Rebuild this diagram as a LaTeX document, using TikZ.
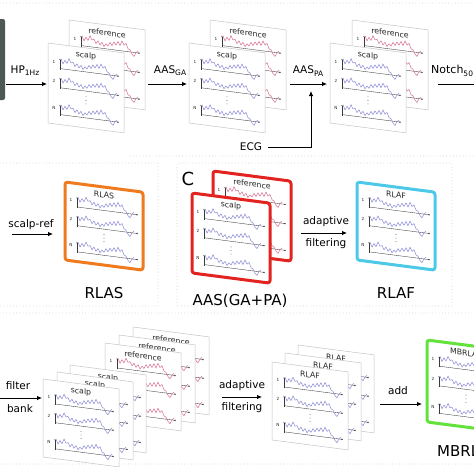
\documentclass[tikz,border=0pt]{standalone}
\usepackage{fontspec}
\setmainfont{DejaVu Sans}
\usetikzlibrary{arrows.meta}
\definecolor{slate}{HTML}{4D5756}
\definecolor{dotc}{HTML}{B0B0B0}
\definecolor{pborder}{HTML}{C4C4C4}
\definecolor{sigblue}{HTML}{8C8CD6}
\definecolor{sigred}{HTML}{D6708E}
\definecolor{axc}{HTML}{3A3A3A}
\definecolor{corange}{HTML}{F07A1E}
\definecolor{cred}{HTML}{E2231F}
\definecolor{ccyan}{HTML}{4CC9E8}
\definecolor{cgreen}{HTML}{63E13C}
\newcommand\lowsub[1]{\raisebox{-0.4ex}{\fontsize{7.5}{8}\selectfont #1}}
\tikzset{
 sepline/.style={dotc, line width=0.7pt, line cap=round, dash pattern=on 0pt off 3.3pt},
 greypanel/.style={draw=pborder, line width=0.5pt, fill=white},
 hl/.style={draw=#1, line width=3pt, rounded corners=2.5pt, line join=round, fill=white},
 ptitle/.style={font=\fontsize{7.8}{8}\selectfont, text=black!85, inner sep=0},
 chlab/.style={font=\fontsize{4.2}{4.2}\selectfont, inner sep=0, text=black!85},
 ax/.style={axc, line width=0.35pt},
 sig/.style={line width=0.5pt, line join=round},
 conn/.style={-{Latex[length=5pt,width=4.5pt]}, line width=0.8pt, black},
 lab/.style={font=\fontsize{10.5}{12}\selectfont, inner sep=0},
 biglab/.style={font=\fontsize{15}{17}\selectfont, inner sep=0},
}
\newcommand\drawpanel[7]{%
\begin{scope}[shift={(#1,#2)}, yslant=-0.13]
 \draw[#7] (0,0) -- (#3,0) -- (#3,#4) -- (0,#4) -- cycle;
 \node[ptitle, transform shape] at ({#3/2},8) {#5};
 \foreach \f/\lab in {0.3/1,0.54/2,0.875/N}{%
   \pgfmathsetmacro\yy{\f*#4}
   \node[chlab] at (6,{\yy-6}) {\lab};
   \draw[ax] (12,{\yy-9}) -- (12,{\yy+1});
   \fill[axc] (12,{\yy-9}) circle (0.6);
   \draw[ax] (12,\yy) -- ({#3-6},\yy);
   \fill[axc] ({#3-6},\yy) circle (0.8);
   \draw[sig, #6, shift={(13,{\yy-1})}] plot coordinates {(0,-9)(2,-4)(4,-8)(6,-5)(8,-10)(10,-6)(12,-7)(14,-3)(16,-6)(18,-2)(20,-5)(22,-1)(24,-4)(26,-2)(28,-6)(30,-3)(32,-7)(34,-4)(36,-8)(38,-4)(40,-9)(42,-5)(44,-7)(46,-2)(48,-1)(50,3)(52,5)(54,1)(56,-1)};
 }
 \foreach \f in {0.61,0.655,0.7} \fill[axc] ({#3/2},{\f*#4}) circle (0.45);
\end{scope}}
\begin{document}
\begin{tikzpicture}[x=1pt,y=-1pt]
\useasboundingbox (0,0) rectangle (474,474);
\clip (0,0) rectangle (474,474);
\fill[white] (0,0) rectangle (474,474);
% separators
\draw[sepline] (0,3) -- (474,3);
\draw[sepline] (130,156) -- (474,156);
\draw[sepline] (0,163) -- (158,163) -- (158,306) -- (0,306);
\draw[sepline] (177,306) -- (177,163) -- (452,163) -- (452,306) -- cycle;
\draw[sepline] (0,313) -- (474,313);
\draw[sepline] (0,464) -- (474,464);
% ---------- top row ----------
\fill[slate, rounded corners=2pt] (-5,19) rectangle (5,100);
\coordinate (hpA) at (6,84); \coordinate (hpB) at (47,84);
\draw[conn] (hpA) -- (hpB);
\node[lab] (hpl) at (25,71) {HP\lowsub{1Hz}};
\drawpanel{69}{20}{76}{80}{reference}{sigred}{greypanel}
\drawpanel{48}{43}{76}{80}{scalp}{sigblue}{greypanel}
\coordinate (gaA) at (148,84); \coordinate (gaB) at (187,84);
\draw[conn] (gaA) -- (gaB);
\node[lab] (gal) at (170,71) {AAS\lowsub{GA}};
\drawpanel{210}{20}{76}{80}{reference}{sigred}{greypanel}
\drawpanel{189}{43}{76}{80}{scalp}{sigblue}{greypanel}
\coordinate (paA) at (290,84); \coordinate (paB) at (327,84);
\draw[conn] (paA) -- (paB);
\node[lab] (pal) at (308,71) {AAS\lowsub{PA}};
\node[lab] (ecg) at (251,147) {ECG};
\coordinate (ecgT) at (311,91);
\draw[conn] (ecg.east) ++(6,0) -| (ecgT);
\drawpanel{352}{20}{76}{80}{reference}{sigred}{greypanel}
\drawpanel{330}{43}{76}{80}{scalp}{sigblue}{greypanel}
\coordinate (nA) at (438,84); \coordinate (nB) at (482,84);
\draw[conn] (nA) -- (nB);
\node[lab, anchor=west, font=\fontsize{11}{12}\selectfont] (nl) at (431,71) {Notch\lowsub{50}};
% ---------- middle row ----------
\node[lab] (sr) at (31,225) {scalp-ref};
\coordinate (srA) at (12,234); \coordinate (srB) at (53,234);
\draw[conn] (srA) -- (srB);
\drawpanel{65}{182}{78}{78}{RLAS}{sigblue}{hl=corange}
\node[biglab] (rlas) at (104,293) {RLAS};
\node[font=\fontsize{18}{20}\selectfont, inner sep=0] (c) at (188,179) {C};
\drawpanel{213}{171}{78}{80}{reference}{sigred}{hl=cred}
\drawpanel{192}{193}{78}{80}{scalp}{sigblue}{hl=cred}
\node[biglab] (aas) at (240,301) {AAS(GA+PA)};
\node[lab] (ad1) at (326,222) {adaptive};
\coordinate (afA) at (301,233); \coordinate (afB) at (347,233);
\draw[conn] (afA) -- (afB);
\node[lab] (ad2) at (326,244) {filtering};
\drawpanel{357}{182}{78}{78}{RLAF}{sigblue}{hl=ccyan}
\node[biglab] (rlaf) at (396,293) {RLAF};
% ---------- bottom row ----------
\node[lab] (fb1) at (18,386) {filter};
\coordinate (fbA) at (-2,398); \coordinate (fbB) at (42,398);
\draw[conn] (fbA) -- (fbB);
\node[lab] (fb2) at (20,409) {bank};
\drawpanel{133}{327}{76}{78}{reference}{sigred}{greypanel}
\drawpanel{119}{335}{76}{78}{reference}{sigred}{greypanel}
\drawpanel{105}{343}{76}{78}{reference}{sigred}{greypanel}
\drawpanel{70}{365}{76}{78}{scalp}{sigblue}{greypanel}
\drawpanel{57}{372}{76}{78}{scalp}{sigblue}{greypanel}
\drawpanel{43}{379}{76}{78}{scalp}{sigblue}{greypanel}
\node[lab] (bf1) at (242,386) {adaptive};
\coordinate (bfA) at (222,397); \coordinate (bfB) at (262,397);
\draw[conn] (bfA) -- (bfB);
\node[lab] (bf2) at (242,408) {filtering};
\drawpanel{298}{345}{76}{78}{RLAF}{sigblue}{greypanel}
\drawpanel{285}{353}{76}{78}{RLAF}{sigblue}{greypanel}
\drawpanel{272}{362}{76}{78}{RLAF}{sigblue}{greypanel}
\node[lab] (addl) at (398,391) {add};
\coordinate (adA) at (380,404); \coordinate (adB) at (422,404);
\draw[conn] (adA) -- (adB);
\drawpanel{427}{340}{78}{82}{MBRLAF}{sigblue}{hl=cgreen}
\node[biglab, anchor=west] (mb) at (437,451) {MBRLAF};
\end{tikzpicture}
\end{document}
